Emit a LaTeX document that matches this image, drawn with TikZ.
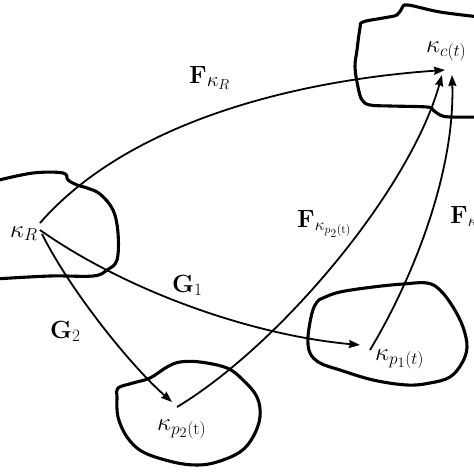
\documentclass[tikz,border=0pt]{standalone}
\usepackage{amsmath}
\usetikzlibrary{arrows.meta}
\begin{document}
\begin{tikzpicture}[x=1pt,y=-1pt,
  blob/.style={line width=3.1pt, line join=round, line cap=round},
  conn/.style={line width=1.8pt, -{Stealth[length=11pt,width=8pt,inset=1pt]}},
  lbl/.style={anchor=base west, inner sep=0pt, font=\fontsize{26}{30}\selectfont},
  klbl/.style={anchor=base west, inner sep=0pt, font=\fontsize{27}{32}\selectfont},
]
\useasboundingbox (0,0) rectangle (474,474);

% blobs
\draw[blob] plot[smooth, tension=0.6] coordinates {(-5,181) (33,173) (63,173) (68,180) (77,185) (87,188) (100,194) (113,210) (118,233) (117,260) (107,270) (93,276) (50,276) (-5,279)};
\draw[blob] plot[smooth, tension=0.6] coordinates {(480,17) (440,12) (408,5) (402,8) (397,15) (383,18) (363,22) (360,28) (357,50) (355,67) (358,87) (362,100) (370,105) (390,106) (427,107) (433,110) (440,115) (450,117) (480,117)};
\draw[blob] plot[smooth cycle, tension=0.6] coordinates {(323,298) (340,292) (373,287) (403,284) (427,283) (440,290) (453,307) (463,327) (467,347) (462,363) (450,377) (430,383) (407,385) (373,380) (340,370) (320,363) (310,353) (308,337) (312,313) (317,302)};
\draw[blob] plot[smooth cycle, tension=0.6] coordinates {(118,388) (133,383) (150,378) (167,367) (180,362) (200,362) (227,368) (243,380) (257,397) (260,417) (253,437) (240,452) (217,462) (197,465) (173,462) (143,452) (127,437) (118,417) (117,397)};

% labels
\node[klbl, font=\fontsize{24}{28}\selectfont] (lR) at (10,237) {$\kappa_R$};
\node[klbl] (lc) at (426,52) {$\kappa_{c(t)}$};
\node[klbl] (lp1) at (375,360) {$\kappa_{p_1(t)}$};
\node[klbl] (lp2) at (157,430) {$\kappa_{p_2(\mathrm{t})}$};
\node[lbl, font=\fontsize{28}{32}\selectfont] (fR) at (189,83) {$\mathbf{F}_{\kappa_R}$};
\node[lbl] (g1) at (172,292) {$\mathbf{G}_1$};
\node[lbl] (g2) at (50,338) {$\mathbf{G}_2$};
\node[lbl] (fp2) at (297,227) {$\mathbf{F}_{\kappa_{p_2(\mathrm{t})}}$};
\node[lbl] (fp1) at (450,223) {$\mathbf{F}_{\kappa_{p_1(t)}}$};

% connector ends
\coordinate (sR1) at (40,223);
\coordinate (sR2) at (40,230);
\coordinate (sR3) at (42,234);
\coordinate (tcR) at (445,70);
\coordinate (tcA) at (442,75);
\coordinate (tcB) at (452,75);
\coordinate (tp1) at (360,345);
\coordinate (tp2) at (172,402);
\coordinate (sp2) at (177,407);
\coordinate (sp1) at (370,350);

% connectors
\draw[conn] (sR1) .. controls (130,120) and (300,80) .. (tcR);
\draw[conn] (sR2) .. controls (125,290) and (250,335) .. (tp1);
\draw[conn] (sR3) .. controls (70,290) and (130,365) .. (tp2);
\draw[conn] (sp2) .. controls (280,345) and (410,190) .. (tcA);
\draw[conn] (sp1) .. controls (415,275) and (455,170) .. (tcB);
\end{tikzpicture}
\end{document}
